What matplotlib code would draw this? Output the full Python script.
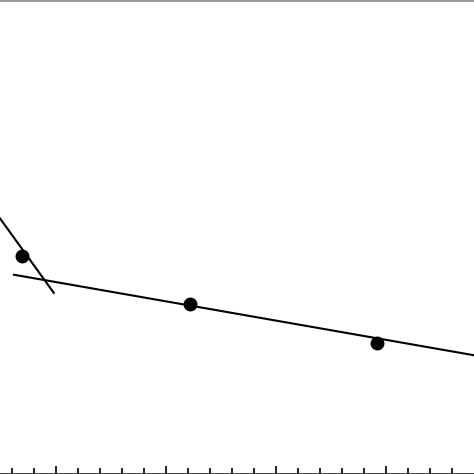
import matplotlib
matplotlib.use('Agg')
import matplotlib.pyplot as plt

# data (x in tick units, y arbitrary)
pts_x = [0.45, 8.1, 16.6]
pts_y = [219, 171, 132]
fit_x = [0.09, 21.0]
fit_y = [200, 120]
steep_x = [-0.545, 1.9]
steep_y = [256, 182]

fig = plt.figure(figsize=(4.74, 4.74), dpi=100)
ax = fig.add_axes([0, 0, 1, 1])
ax.plot(fit_x, fit_y, color='black', lw=1.5)
ax.plot(steep_x, steep_y, color='black', lw=1.5)
ax.plot(pts_x, pts_y, 'o', color='black', ms=9)

ax.set_xlim(-0.545, 21.0)
ax.set_ylim(2, 473)
ax.set_xticks(range(0, 21), minor=True)
ax.set_xticks([2, 7, 12, 17])
ax.tick_params(axis='x', which='major', length=6, width=1.2, direction='in', labelbottom=False)
ax.tick_params(axis='x', which='minor', length=4, width=1.2, direction='in')
ax.set_yticks([])
ax.spines['left'].set_visible(False)
ax.spines['right'].set_visible(False)
ax.spines['top'].set_color('#999999')
ax.spines['top'].set_linewidth(2)
ax.spines['bottom'].set_color('#333333')
ax.spines['bottom'].set_linewidth(2)
fig.savefig('out.png', dpi=100)
